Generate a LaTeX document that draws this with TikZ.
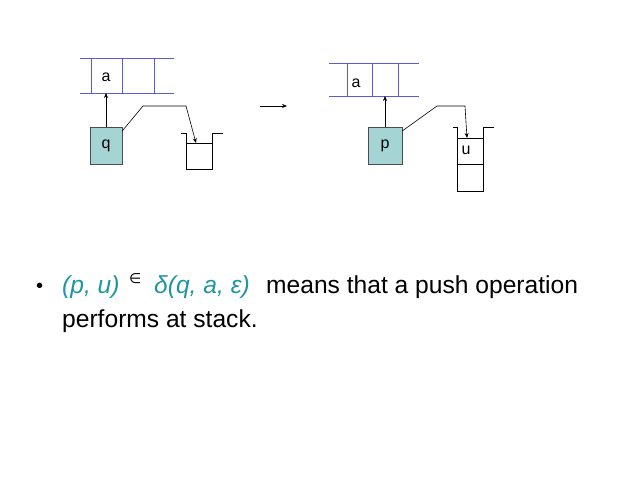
\documentclass[tikz,border=0pt]{standalone}
\usepackage{fontspec}
\setmainfont{Liberation Sans}
\newfontfamily\djv{DejaVu Sans}
\definecolor{tealtxt}{RGB}{30,150,160}
\definecolor{boxfill}{RGB}{165,212,212}
\definecolor{tapeblue}{RGB}{90,90,225}
\usetikzlibrary{arrows.meta}
\tikzset{
  tape/.style={draw=tapeblue, line width=0.8pt},
  state/.style={draw=black!70, fill=boxfill, minimum height=37pt, inner sep=0pt, font=\fontsize{16}{18}\selectfont},
  lbl/.style={font=\fontsize{16}{18}\selectfont, inner sep=0pt},
  wire/.style={draw=black, line width=0.6pt},
  head/.style={wire, -{Stealth[length=5pt,width=4pt]}},
  stk/.style={draw=black, line width=0.6pt},
  body/.style={anchor=base west, inner sep=0pt, font=\fontsize{24.6}{28}\selectfont}
}
\begin{document}
\begin{tikzpicture}[x=1pt,y=-1pt]
\useasboundingbox (0,0) rectangle (638,478);
% left tape
\draw[tape] (80,58) -- (174,58);
\draw[tape] (80,93) -- (174,93);
\foreach \x in {91,122,154} \draw[tape] (\x,58) -- (\x,93);
\node[lbl] (la) at (106,77) {a};
\node[state, minimum width=32pt] (q) at (106,145.5) {q};
\coordinate (lt) at (106,93);
\draw[head] (q.north) -- (lt);
% left stack
\draw[stk] (181,133) -- (186,133) -- (186,169) -- (212,169) -- (212,133) -- (223,133);
\draw[stk] (186,143) -- (212,143);
\coordinate (ls) at (196,143);
\draw[head] (q.east |- 0,131) -- (143,106) -- (186,106) -- (ls);
% middle arrow
\coordinate (m1) at (260,106);
\coordinate (m2) at (287,106);
\draw[head] (m1) -- (m2);
% right tape
\draw[tape] (329,63) -- (419,63);
\draw[tape] (329,96) -- (419,96);
\foreach \x in {347,372,398} \draw[tape] (\x,63) -- (\x,96);
\node[lbl] (ra) at (356,83) {a};
\node[state, minimum width=34pt] (p) at (385,145.5) {p};
\coordinate (rt) at (385,96);
\draw[head] (p.north) -- (rt);
% right stack
\draw[stk] (453,127) -- (457,127) -- (457,191) -- (483,191) -- (483,127) -- (494,127);
\draw[stk] (457,138) -- (483,138);
\draw[stk] (457,164) -- (483,164);
\node[lbl] (u) at (466,150) {u};
\coordinate (rs) at (467,138);
\draw[head] (p.east |- 0,131) -- (437,106) -- (465,106) -- (rs);
% text
\node[body, font=\fontsize{20}{22}\selectfont] (bul) at (36,293) {•};
\node[body, text=tealtxt, font=\fontsize{24.6}{28}\selectfont\itshape] (t1) at (62,294) {(p, u)};
\node[body, font=\fontsize{14}{15}\selectfont\djv] (el) at (129,284) {∈};
\node[body, text=tealtxt, font=\fontsize{24.6}{28}\selectfont\itshape] (t2) at (154,294) {δ(q, a, ε)};
\node[body] (t3) at (266,294) {means that a push operation};
\node[body] (t4) at (62,328) {performs at stack.};
\end{tikzpicture}
\end{document}
